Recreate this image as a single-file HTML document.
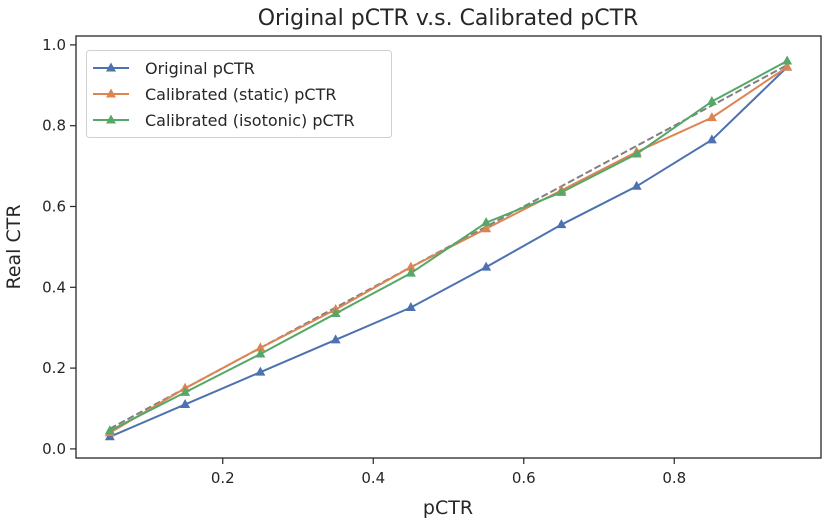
<!DOCTYPE html>
<html><head><meta charset="utf-8"><style>
body{margin:0;background:#fff;width:826px;height:524px;overflow:hidden}
text{font-family:"DejaVu Sans","Liberation Sans",sans-serif;fill:#262626}
</style></head><body>
<svg id="chart" width="826" height="524" xmlns="http://www.w3.org/2000/svg"></svg>
<script>
const xVals=[0.05,0.15,0.25,0.35,0.45,0.55,0.65,0.75,0.85,0.95];
const originalVals=[0.03,0.11,0.19,0.27,0.35,0.45,0.555,0.65,0.765,0.945];
const staticVals=[0.04,0.15,0.25,0.345,0.45,0.545,0.64,0.735,0.82,0.945];
const isotonicVals=[0.045,0.14,0.235,0.335,0.435,0.56,0.635,0.73,0.86,0.96];
const xTicks=[0.2,0.4,0.6,0.8];
const yTicks=[0.0,0.2,0.4,0.6,0.8,1.0];
const seriesNames=["Original pCTR","Calibrated (static) pCTR","Calibrated (isotonic) pCTR"];
const svg=document.getElementById('chart');
const NS='http://www.w3.org/2000/svg';
const L=76,R=821,T=36,B=458;
const xMin=0.005,xMax=0.995,yMin=-0.0225,yMax=1.022;
const sx=v=>L+(v-xMin)/(xMax-xMin)*(R-L);
const sy=v=>B-(v-yMin)/(yMax-yMin)*(B-T);
function mk(tag,attrs,parent){const e=document.createElementNS(NS,tag);for(const k in attrs)e.setAttribute(k,attrs[k]);(parent||svg).appendChild(e);return e;}
// title
let t=mk('text',{x:448,y:25,'text-anchor':'middle','font-size':22});t.textContent='Original pCTR v.s. Calibrated pCTR';


// ticks
xTicks.forEach(v=>{const g=mk('g',{});


mk('line',{x1:sx(v),x2:sx(v),y1:B,y2:B+6,stroke:'#262626','stroke-width':1.2},g);
const tx=mk('text',{x:sx(v),y:B+25,'text-anchor':'middle','font-size':15},g);tx.textContent=v.toFixed(1);});
yTicks.forEach(v=>{const g=mk('g',{});


mk('line',{x1:L-6,x2:L,y1:sy(v),y2:sy(v),stroke:'#262626','stroke-width':1.2},g);
const tx=mk('text',{x:L-10,y:sy(v)+5,'text-anchor':'end','font-size':15},g);tx.textContent=v.toFixed(1);});
let xl=mk('text',{x:448,y:514,'text-anchor':'middle','font-size':19});xl.textContent='pCTR';


let yl=mk('text',{x:0,y:0,'text-anchor':'middle','font-size':19,transform:`translate(20,247) rotate(-90)`});yl.textContent='Real CTR';


// diagonal
const d=mk('line',{x1:sx(xVals[0]),y1:sy(xVals[0]),x2:sx(xVals[xVals.length-1]),y2:sy(xVals[xVals.length-1]),stroke:'#808080','stroke-width':2,'stroke-dasharray':'7,3'});


const colors=['#4c72b0','#dd8452','#55a868'];
const allSeries=[originalVals,staticVals,isotonicVals];
function tri(x,y,c,p){return mk('polygon',{points:`${x},${y-5.5} ${x-5},${y+3.5} ${x+5},${y+3.5}`,fill:c},p);}
allSeries.forEach((vals,i)=>{const g=mk('g',{});


mk('polyline',{points:vals.map((v,j)=>sx(xVals[j])+','+sy(v)).join(' '),fill:'none',stroke:colors[i],'stroke-width':2},g);
vals.forEach((v,j)=>{const m=tri(sx(xVals[j]),sy(v),colors[i],g);

});});
// frame
const fr=mk('rect',{x:L,y:T,width:R-L,height:B-T,fill:'none',stroke:'#262626','stroke-width':1.3});


// legend
const lg=mk('g',{});


mk('rect',{x:86.5,y:50.5,width:305,height:87,rx:3,fill:'#fff',stroke:'#d0d0d0'},lg);
seriesNames.forEach((n,i)=>{const y=68+i*26;const e=mk('g',{},lg);


mk('line',{x1:93,x2:129,y1:y,y2:y,stroke:colors[i],'stroke-width':2},e);
tri(111,y,colors[i],e);
const tx=mk('text',{x:145,y:y+6,'font-size':16},e);tx.textContent=n;});
</script>
</body></html>
